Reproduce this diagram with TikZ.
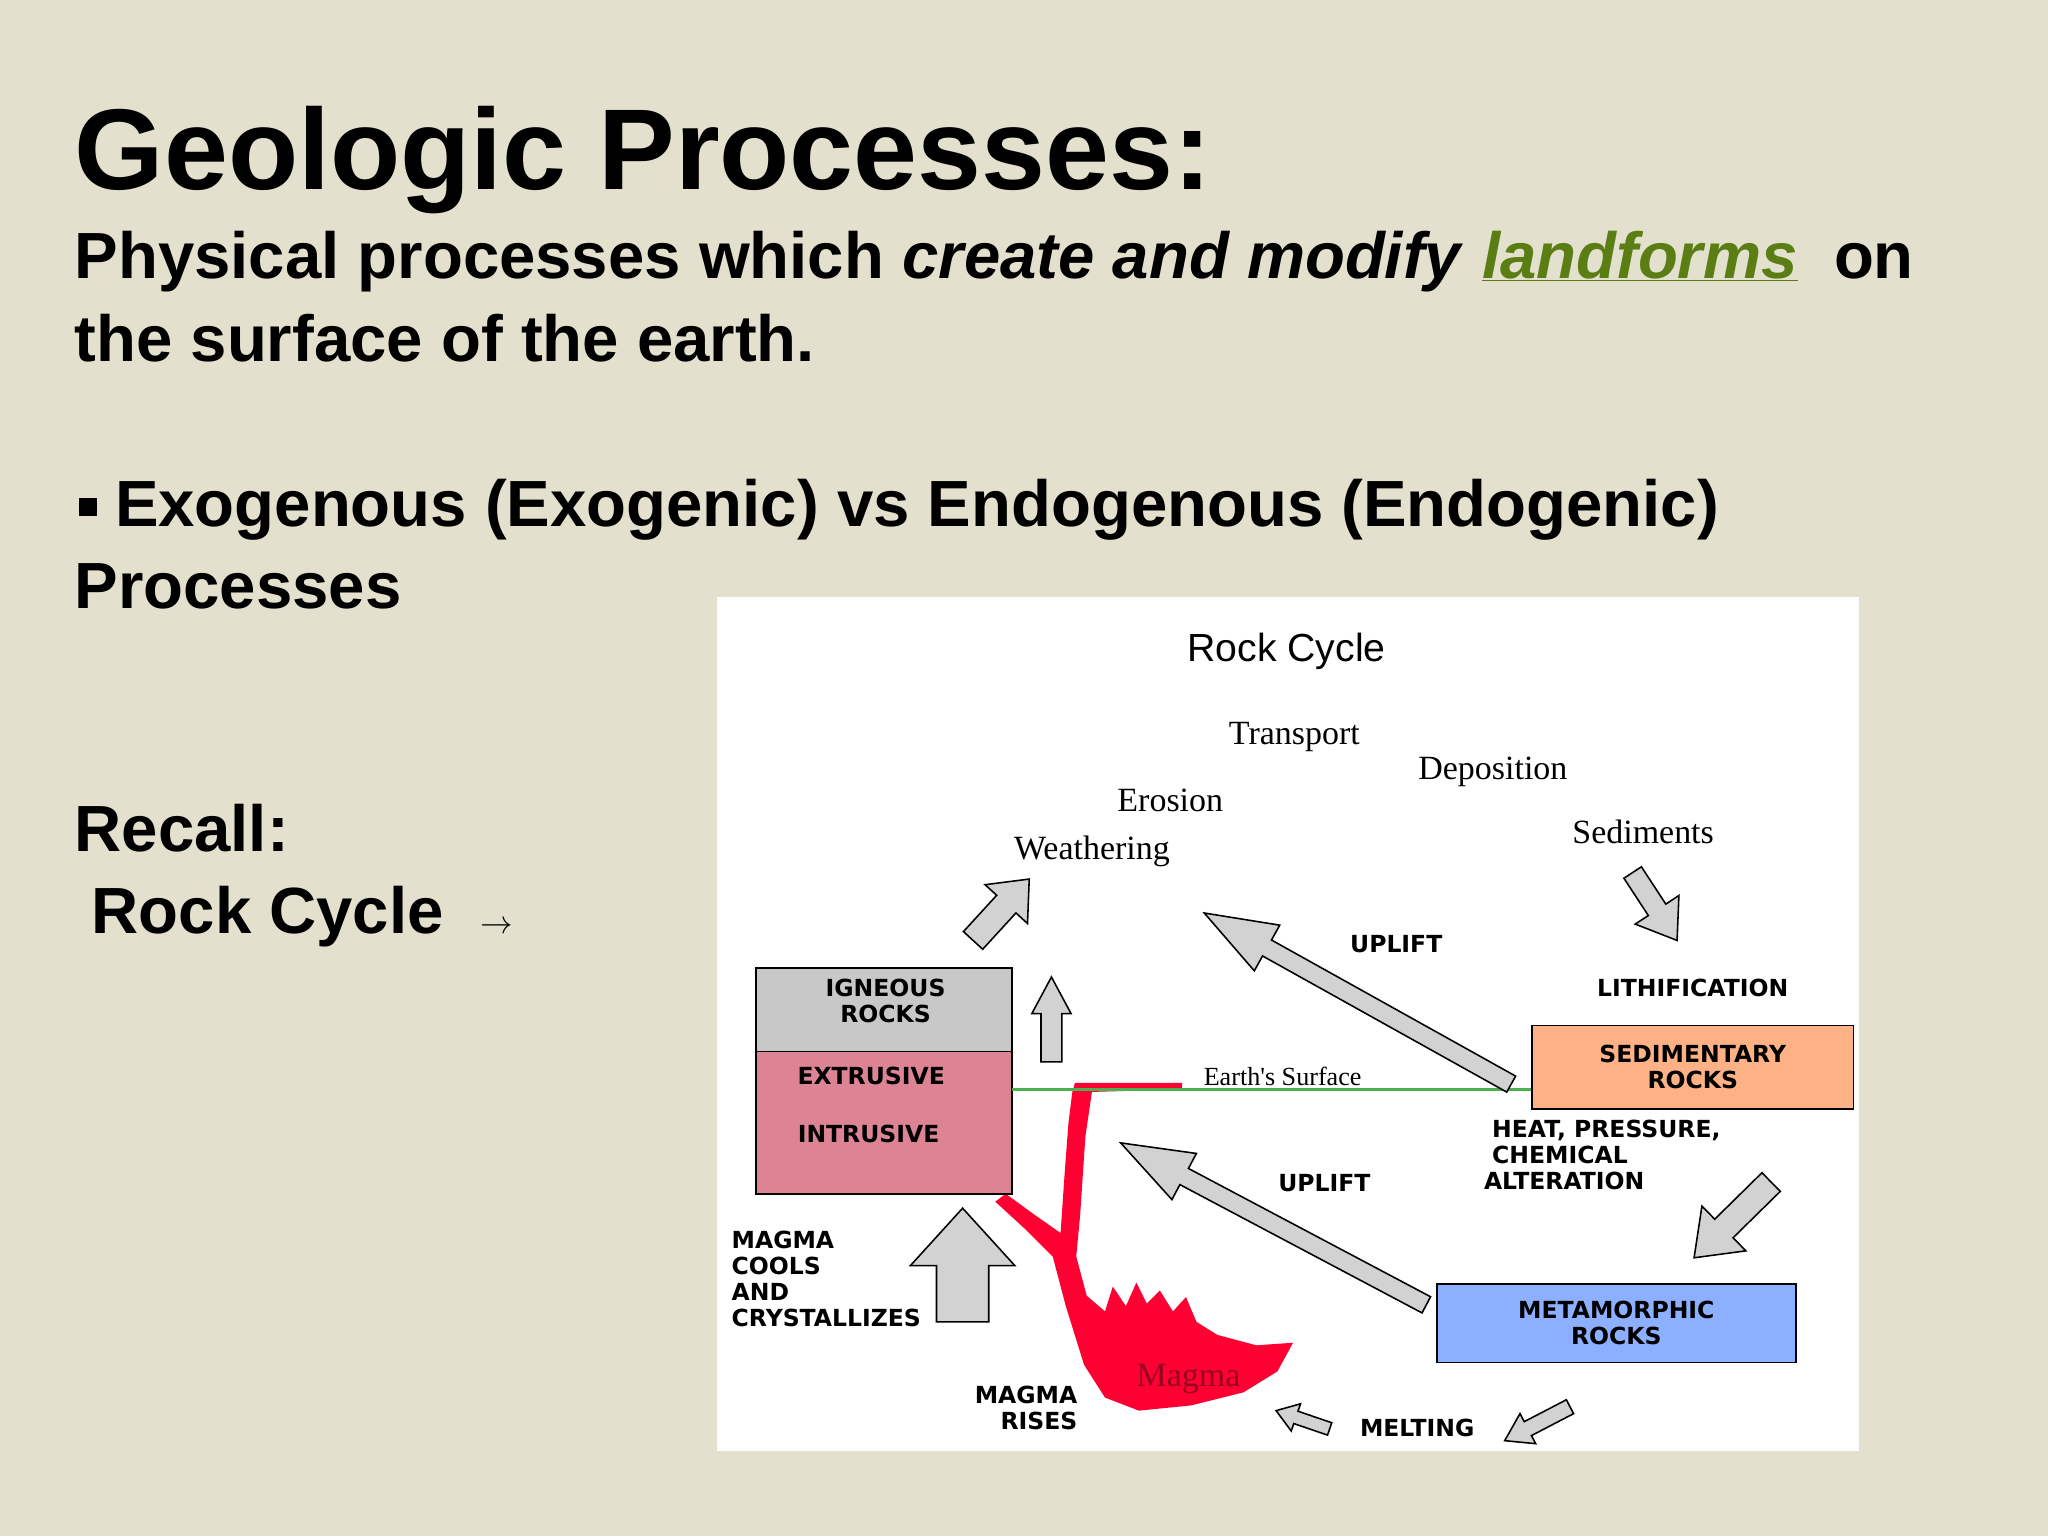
\documentclass[tikz,border=0pt]{standalone}
\usepackage{fontspec}
\setmainfont{Liberation Sans}
\newfontfamily\rcserif{Liberation Serif}
\newfontfamily\rcblock{DejaVu Sans}
\definecolor{slidebg}{HTML}{E3E1CE}
\definecolor{lfgreen}{HTML}{5A7E14}
\definecolor{igray}{HTML}{C8C8C8}
\definecolor{ipink}{HTML}{DC8494}
\definecolor{sedpeach}{HTML}{FDB185}
\definecolor{metblue}{HTML}{8CB0FF}
\definecolor{magmared}{HTML}{FF0033}
\definecolor{surfgreen}{HTML}{4CAF50}
\definecolor{arrgray}{HTML}{D2D2D2}
\newcommand\lfunder[1]{\underline{#1}}
% block arrow: x1,y1,x2,y2,half shaft,half head,head length
\newcommand\barrow[7]{%
  \pgfmathsetmacro\bang{atan2(#4-(#2),#3-(#1))}%
  \pgfmathsetmacro\blen{veclen(#3-(#1),#4-(#2))}%
  \draw[arr,shift={(#1,#2)},rotate=\bang] (0,-#5) -- ({\blen-#7},-#5) -- ({\blen-#7},-#6)
    -- (\blen,0) -- ({\blen-#7},#6) -- ({\blen-#7},#5) -- (0,#5) -- cycle;}
\begin{document}
\begin{tikzpicture}[x=1pt,y=1pt,
  arr/.style={draw=black,fill=arrgray,line width=1.2pt,line join=miter},
  big/.style={anchor=base west,font=\bfseries\fontsize{50}{60}\selectfont},
  caps/.style={font=\rcblock\bfseries\fontsize{18}{20}\selectfont,align=center,inner sep=0pt},
  srf/.style={font=\rcserif\fontsize{26}{28}\selectfont,inner sep=0pt},
  box/.style={draw=black,line width=1.2pt}]
\useasboundingbox (0,0) rectangle (1568,-1176);
\fill[slidebg] (0,0) rectangle (1568,-1176);
% slide text
\node[anchor=base west,inner sep=0pt,font=\bfseries\fontsize{88}{96}\selectfont] (title) at (57,-145) {Geologic Processes:};
\node[big,inner sep=0pt] (l1) at (57,-213) {Physical processes which \textit{create and modify} {\color{lfgreen}\lfunder{\textit{landforms}}}\ \ on};
\node[big,inner sep=0pt] (l2) at (57,-277) {the surface of the earth.};
\node[big,inner sep=0pt] (l3) at (60,-403) {\raisebox{8pt}{\rule{14pt}{14pt}}\ Exogenous (Exogenic) vs Endogenous (Endogenic)};
\node[big,inner sep=0pt] (l4) at (57,-466) {Processes};
\node[big,inner sep=0pt] (l5) at (57,-652) {Recall:};
\node[big,inner sep=0pt] (l6) at (70,-715) {Rock Cycle\ \ $\rightarrow$};
% diagram panel
\fill[white] (549,-457) rectangle (1423,-1111);
\node[font=\fontsize{30}{32}\selectfont] (rc) at (985,-499) {Rock Cycle};
\node[srf] (tr) at (991,-564) {Transport};
\node[srf] (de) at (1143,-591) {Deposition};
\node[srf] (er) at (896,-613) {Erosion};
\node[srf] (se) at (1258,-637) {Sediments};
\node[srf] (we) at (836,-652) {Weathering};
% magma
\fill[magmared] (823,-829) -- (905,-829) -- (905,-834) -- (836,-836) -- (831,-870) -- (827,-930)
  -- (824,-962) -- (832,-992) -- (846,-1004) -- (852,-985) -- (862,-1000) -- (870,-982) -- (878,-998)
  -- (888,-988) -- (898,-1004) -- (908,-993) -- (916,-1012) -- (932,-1022) -- (962,-1030) -- (990,-1028)
  -- (978,-1050) -- (952,-1066) -- (912,-1076) -- (872,-1080) -- (846,-1070) -- (830,-1045)
  -- (816,-1000) -- (806,-962) -- (786,-942) -- (762,-920) -- (770,-914) -- (792,-930) -- (812,-944)
  -- (815,-900) -- (818,-860) -- (821,-836) -- cycle;
\node[font=\rcserif\fontsize{26}{28}\selectfont,text=magmared!60!black,inner sep=0pt] (mg) at (910,-1056) {Magma};
% boxes
\fill[igray] (579,-741) rectangle (775,-805);
\fill[ipink] (579,-805) rectangle (775,-914);
\draw[box] (579,-741) rectangle (775,-914);
\draw[box] (579,-805) -- (775,-805);
\node[caps] (ign) at (678,-766) {IGNEOUS\\ROCKS};
\node[caps] (ext) at (667,-824) {EXTRUSIVE};
\node[caps] (int) at (665,-868) {INTRUSIVE};
\node[box,fill=sedpeach,minimum width=246pt,minimum height=64pt,caps,inner sep=0pt] (sed) at (1296,-817) {SEDIMENTARY\\ROCKS};
\node[box,fill=metblue,minimum width=275pt,minimum height=60pt,caps,inner sep=0pt] (met) at (1237.5,-1013) {METAMORPHIC\\ROCKS};
% earth's surface
\coordinate (es) at (775,-834);
\draw[surfgreen,line width=2pt] (es) -- (sed.west |- es);
\node[font=\rcserif\fontsize{20}{22}\selectfont,inner sep=0pt] (esl) at (982,-824) {Earth's Surface};
% caps labels
\node[caps] (up1) at (1069,-723) {UPLIFT};
\node[caps] (lit) at (1296,-756) {LITHIFICATION};
\node[caps,align=left,anchor=north west] (heat) at (1136,-857) {\ HEAT, PRESSURE,\\\ CHEMICAL\\ALTERATION};
\node[caps] (up2) at (1014,-906) {UPLIFT};
\node[caps,align=left,anchor=north west] (mcool) at (560,-942) {MAGMA\\COOLS\\AND\\CRYSTALLIZES};
\node[caps,align=right,anchor=north east] (mrise) at (825,-1061) {MAGMA\\RISES};
\node[caps] (melt) at (1085,-1093) {MELTING};
% block arrows
\barrow{745}{-720}{788}{-673}{10}{22}{26}
\barrow{805}{-813}{805}{-748}{8}{15}{28}
\barrow{1157}{-830}{922}{-699}{7}{20}{55}
\barrow{1250}{-668}{1284}{-720}{8}{20}{28}
\barrow{1356}{-905}{1297}{-963}{10}{24}{32}
\barrow{1092}{-999}{858}{-875}{7}{20}{55}
\barrow{737}{-1012}{737}{-925}{20}{40}{44}
\barrow{1018}{-1094}{977}{-1080}{5}{11}{16}
\barrow{1202}{-1077}{1152}{-1103}{6}{13}{20}
\end{tikzpicture}
\end{document}
